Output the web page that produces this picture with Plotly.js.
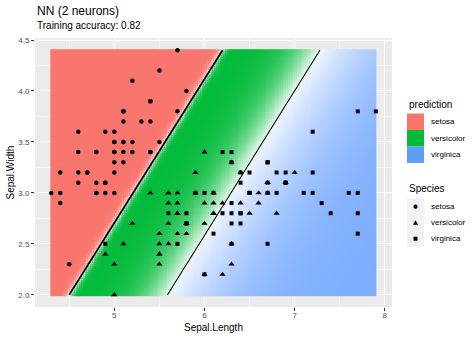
<!DOCTYPE html>
<html>
<head>
<meta charset="utf-8">
<script src="https://cdn.plot.ly/plotly-3.0.1.min.js"></script>
<style>html,body{margin:0;padding:0;background:#fff;}#chart{width:474px;height:338px;}</style>
</head>
<body>
<div id="chart"></div>
<script>
// ---- data (iris Sepal.Length / Sepal.Width) ----
const setosaX = [5.1,4.9,4.7,4.6,5.0,5.4,4.6,5.0,4.4,4.9,5.4,4.8,4.8,4.3,5.8,5.7,5.4,5.1,5.7,5.1,5.4,5.1,4.6,5.1,4.8,5.0,5.0,5.2,5.2,4.7,4.8,5.4,5.2,5.5,4.9,5.0,5.5,4.9,4.4,5.1,5.0,4.5,4.4,5.0,5.1,4.8,5.1,4.6,5.3,5.0];
const setosaY = [3.5,3.0,3.2,3.1,3.6,3.9,3.4,3.4,2.9,3.1,3.7,3.4,3.0,3.0,4.0,4.4,3.9,3.5,3.8,3.8,3.4,3.7,3.6,3.3,3.4,3.0,3.4,3.5,3.4,3.2,3.1,3.4,4.1,4.2,3.1,3.2,3.5,3.6,3.0,3.4,3.5,2.3,3.2,3.5,3.8,3.0,3.8,3.2,3.7,3.3];
const versicolorX = [7.0,6.4,6.9,5.5,6.5,5.7,6.3,4.9,6.6,5.2,5.0,5.9,6.0,6.1,5.6,6.7,5.6,5.8,6.2,5.6,5.9,6.1,6.3,6.1,6.4,6.6,6.8,6.7,6.0,5.7,5.5,5.5,5.8,6.0,5.4,6.0,6.7,6.3,5.6,5.5,5.5,6.1,5.8,5.0,5.6,5.7,5.7,6.2,5.1,5.7];
const versicolorY = [3.2,3.2,3.1,2.3,2.8,2.8,3.3,2.4,2.9,2.7,2.0,3.0,2.2,2.9,2.9,3.1,3.0,2.7,2.2,2.5,3.2,2.8,2.5,2.8,2.9,3.0,2.8,3.0,2.9,2.6,2.4,2.4,2.7,2.7,3.0,3.4,3.1,2.3,3.0,2.5,2.6,3.0,2.6,2.3,2.7,3.0,2.9,2.9,2.5,2.8];
const virginicaX = [6.3,5.8,7.1,6.3,6.5,7.6,4.9,7.3,6.7,7.2,6.5,6.4,6.8,5.7,5.8,6.4,6.5,7.7,7.7,6.0,6.9,5.6,7.7,6.3,6.7,7.2,6.2,6.1,6.4,7.2,7.4,7.9,6.4,6.3,6.1,7.7,6.3,6.4,6.0,6.9,6.7,6.9,5.8,6.8,6.7,6.7,6.3,6.5,6.2,5.9];
const virginicaY = [3.3,2.7,3.0,2.9,3.0,3.0,2.5,2.9,2.5,3.6,3.2,2.7,3.0,2.5,2.8,3.2,3.0,3.8,2.6,2.2,3.2,2.8,2.8,2.7,3.3,3.2,2.8,3.0,2.8,3.0,2.8,3.8,2.8,2.8,2.6,3.0,3.4,3.1,3.0,3.1,3.1,3.1,2.7,3.2,3.3,3.0,2.5,3.0,3.4,3.0];

// decision boundaries (setosa|versicolor, versicolor|virginica)
const boundary1X = [4.5, 6.2];
const boundary1Y = [2.0, 4.4];
const boundary2X = [5.59, 7.28];
const boundary2Y = [2.0, 4.4];

// prediction grid extent
const gridXRange = [4.3, 7.9];
const gridYRange = [2.0, 4.4];
const gridStep = 0.02;

const k1 = 40, k2green = 5.5, k2blue = 2.2, blueMax = 0.82;

const classNames = ['setosa','versicolor','virginica'];
const classColors = ['#F8766D','#00BA38','#619CFF'];
const xTicks = [5,6,7,8];
const yTicks = [2.0,2.5,3.0,3.5,4.0,4.5];

// ---- build the prediction surface ----
function lineX(bx, by, y){ return bx[0] + (y - by[0]) * (bx[1]-bx[0])/(by[1]-by[0]); }
function logistic(t){ return 1/(1+Math.exp(-t)); }
const gx = [], gy = [];
for (let i=0; gridXRange[0]+i*gridStep <= gridXRange[1]+1e-9; i++) gx.push(+(gridXRange[0]+i*gridStep).toFixed(4));
for (let j=0; gridYRange[0]+j*gridStep <= gridYRange[1]+1e-9; j++) gy.push(+(gridYRange[0]+j*gridStep).toFixed(4));
const zs = [[],[],[]];
gy.forEach(y => {
  const rows = [[],[],[]];
  const x1 = lineX(boundary1X, boundary1Y, y), x2 = lineX(boundary2X, boundary2Y, y);
  gx.forEach(x => {
    const u1 = x - x1, u2 = x - x2;
    let cls, conf, scale = 1;
    if (u1 < 0) { cls = 0; conf = logistic(-k1*u1); }
    else if (u2 < 0) { cls = 1; conf = Math.min(logistic(k1*u1), logistic(-k2green*u2)); }
    else { cls = 2; conf = logistic(k2blue*u2); scale = blueMax; }
    const a = 0.1 + 0.9*(2*conf-1)*scale;
    for (let c=0;c<3;c++) rows[c].push(c===cls ? a : null);
  });
  for (let c=0;c<3;c++) zs[c].push(rows[c]);
});

const traces = [];
for (let c=0;c<3;c++){
  traces.push({type:'heatmap', x:gx, y:gy, z:zs[c], zmin:0, zmax:1, zsmooth:false,
    colorscale:[[0,'#ffffff'],[1,classColors[c]]], showscale:false, hoverinfo:'skip'});
}
traces.push({type:'scatter', mode:'lines', x:boundary1X, y:boundary1Y, line:{color:'#000', width:1.8}, hoverinfo:'skip', showlegend:false});
traces.push({type:'scatter', mode:'lines', x:boundary2X, y:boundary2Y, line:{color:'#000', width:1.1}, hoverinfo:'skip', showlegend:false});
traces.push({type:'scatter', mode:'markers', x:setosaX, y:setosaY, marker:{symbol:'circle', size:4.5, color:'#000'}, showlegend:false});
traces.push({type:'scatter', mode:'markers', x:versicolorX, y:versicolorY, marker:{symbol:'triangle-up', size:5.5, color:'#000'}, showlegend:false});
traces.push({type:'scatter', mode:'markers', x:virginicaX, y:virginicaY, marker:{symbol:'square', size:4, color:'#000'}, showlegend:false});

// ---- layout geometry (pixels) ----
const W=474, H=338, L=35, R=82, T=38, B=31;
const pw = W-L-R, ph = H-T-B;
const px = p => (p-L)/pw;
const py = p => (H-B-p)/ph;
const FONT = 'Liberation Sans, Arial, sans-serif';

const shapes = [];
const annotations = [];
function text(t, xpix, ypix, size, color, opts){
  annotations.push(Object.assign({text:t, xref:'paper', yref:'paper', x:px(xpix), y:py(ypix),
    xanchor:'left', yanchor:'middle', showarrow:false, font:{family:FONT, size:size, color:color}}, opts||{}));
}
text('NN (2 neurons)', 35, 11.5, 12, '#000');
text('Training accuracy: 0.82', 35, 25.5, 10, '#000');
text('Sepal.Length', (L+W-R)/2, 327, 10, '#000', {xanchor:'center'});
text('Sepal.Width', 10, (T+H-B)/2, 10, '#000', {xanchor:'center', textangle:-90});

// prediction legend
text('prediction', 406.5, 104, 10, '#000');
const keyTop = [113.5, 130, 146.5];
const keyH = 16.5;
classNames.forEach((n,i)=>{
  shapes.push({type:'rect', xref:'paper', yref:'paper', x0:px(407), x1:px(424), y0:py(keyTop[i]), y1:py(keyTop[i]+keyH), fillcolor:classColors[i], line:{width:0}, layer:'above'});
  text(n, 428.5, keyTop[i]+keyH/2, 8, '#000');
});
// species legend
text('Species', 406.5, 188.5, 10, '#000');
shapes.push({type:'rect', xref:'paper', yref:'paper', x0:px(407), x1:px(424), y0:py(198.5), y1:py(246.8), fillcolor:'#F2F2F2', line:{width:0}, layer:'above'});
const spY = [206.7, 222.7, 238.7];
const cx = 415.5;
shapes.push({type:'circle', xref:'paper', yref:'paper', x0:px(cx-2.1), x1:px(cx+2.1), y0:py(spY[0]-2.1), y1:py(spY[0]+2.1), fillcolor:'#000', line:{width:0}, layer:'above'});
shapes.push({type:'path', xref:'paper', yref:'paper', path:`M ${px(cx-2.6)} ${py(spY[1]+2)} L ${px(cx+2.6)} ${py(spY[1]+2)} L ${px(cx)} ${py(spY[1]-2.5)} Z`, fillcolor:'#000', line:{width:0}, layer:'above'});
shapes.push({type:'rect', xref:'paper', yref:'paper', x0:px(cx-2), x1:px(cx+2), y0:py(spY[2]-2), y1:py(spY[2]+2), fillcolor:'#000', line:{width:0}, layer:'above'});
classNames.forEach((n,i)=> text(n, 428.5, spY[i], 8, '#000'));

const axisCommon = {ticks:'outside', ticklen:3, tickwidth:1, tickcolor:'#333333',
  tickfont:{family:FONT, size:8, color:'#4D4D4D'}, showgrid:true, gridcolor:'#FFFFFF', gridwidth:1,
  zeroline:false, showline:false, fixedrange:true};
const layout = {
  width:W, height:H, margin:{l:L, r:R, t:T, b:B, pad:0},
  paper_bgcolor:'#FFFFFF', plot_bgcolor:'#EBEBEB', showlegend:false,
  font:{family:FONT},
  xaxis: Object.assign({}, axisCommon, {range:[4.12,8.08], tickmode:'array', tickvals:xTicks, ticktext:xTicks.map(String),
    ticklabelstandoff:-3,
    minor:{tickmode:'linear', tick0:0, dtick:0.5, showgrid:true, gridcolor:'#FFFFFF', gridwidth:0.5, ticks:''}}),
  yaxis: Object.assign({}, axisCommon, {range:[1.88,4.52], tickmode:'array', tickvals:yTicks, ticktext:yTicks.map(v=>v.toFixed(1)),
    minor:{tickmode:'linear', tick0:0, dtick:0.25, showgrid:true, gridcolor:'#FFFFFF', gridwidth:0.5, ticks:''}}),
  shapes:shapes, annotations:annotations
};
Plotly.newPlot('chart', traces, layout, {displayModeBar:false, staticPlot:true});
</script>
</body>
</html>
